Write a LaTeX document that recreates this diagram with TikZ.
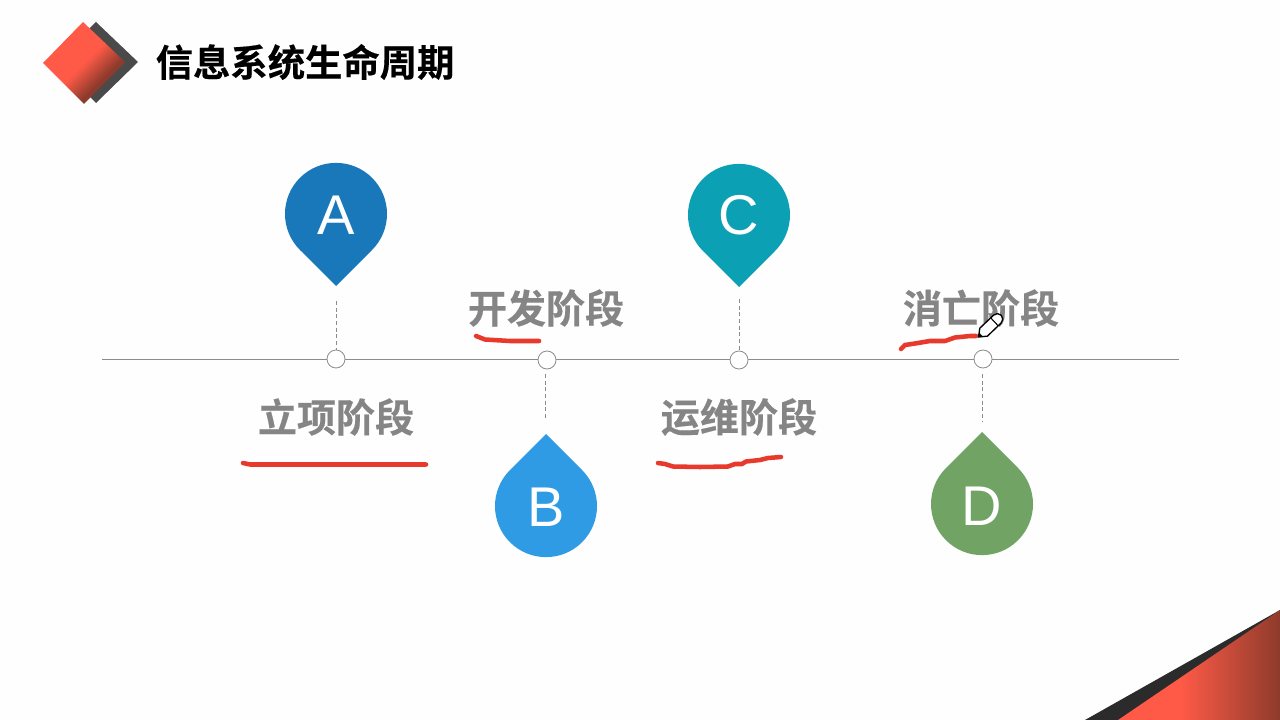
\documentclass[tikz,border=0pt]{standalone}
\usepackage{fontspec}
\setmainfont{Liberation Sans}
\newfontfamily\cjk{Noto Sans CJK SC Bold}[FakeBold=0.35]
\usetikzlibrary{calc}
\definecolor{redA}{HTML}{FF5A47}
\definecolor{redB}{HTML}{8E3B2C}
\definecolor{inkdark}{HTML}{4A4A4A}
\definecolor{cornerdark}{HTML}{2B2B2B}
\definecolor{pinA}{HTML}{1878B9}
\definecolor{pinB}{HTML}{2F9BE5}
\definecolor{pinC}{HTML}{0CA0B5}
\definecolor{pinD}{HTML}{71A464}
\definecolor{labelgray}{HTML}{858585}
\definecolor{linegray}{HTML}{8C8C8C}
\definecolor{ink}{HTML}{E83A2C}
\definecolor{pagebg}{HTML}{FEFEFE}
\pgfdeclarehorizontalshading{logoshade}{100bp}{color(0bp)=(redA);color(50bp)=(redA);color(65bp)=(redB);color(100bp)=(redB)}
\pgfdeclarehorizontalshading{cornershade}{100bp}{color(0bp)=(redA);color(44bp)=(redA);color(75bp)=(redB);color(100bp)=(redB)}
\tikzset{
  x=0.75pt,y=-0.75pt,
  dot/.style={circle,draw=linegray,fill=white,line width=0.6pt,minimum size=13.5pt,inner sep=0pt},
  letter/.style={text=white,font=\fontsize{42}{42}\selectfont,inner sep=0pt},
  phase/.style={text=labelgray,font=\cjk\fontsize{29.3}{29.3}\selectfont,inner sep=0pt},
  guide/.style={draw=linegray,line width=0.5pt,dash pattern=on 3pt off 2pt},
  stroke/.style={draw=ink,line width=3.4pt,line cap=round,line join=round},
}
\newcommand{\pindown}[3]{\fill[#3] (#1,#2) ++(0,72) -- ++(36.06,-36.06) arc[start angle=-45,end angle=225,radius=38.25pt] -- cycle;}
\newcommand{\pinup}[3]{\fill[#3] (#1,#2) ++(0,-72) -- ++(-36.06,36.06) arc[start angle=135,end angle=405,radius=38.25pt] -- cycle;}
\begin{document}
\begin{tikzpicture}
\useasboundingbox (0,0) rectangle (1280,720);
\fill[pagebg] (0,0) rectangle (1280,720);

% logo
\fill[inkdark] (96,22) -- (138,62) -- (96,103) -- (55,62) -- cycle;
\path[shading=logoshade,shading angle=-45] (83,22) -- (125,62) -- (84,104) -- (43,63) -- cycle;
\node[anchor=west,inner sep=0pt,font=\cjk\fontsize{28}{28}\selectfont,text=black] (title) at (155.5,62) {信息系统生命周期};

% corner
\fill[cornerdark] (1085,720) -- (1280,610) -- (1280,720) -- cycle;
\path[shading=cornershade] (1118,720) -- (1280,610) -- (1280,720) -- cycle;

% timeline
\coordinate (lineL) at (102,359);
\coordinate (lineR) at (1179,359);
\draw[linegray,line width=0.7pt] (lineL) -- (lineR);
\node[dot] (d1) at (336,359) {};
\node[dot] (d2) at (547,360) {};
\node[dot] (d3) at (739,360) {};
\node[dot] (d4) at (983,359) {};

% pins
\pindown{336}{214}{pinA}
\pinup{546}{506}{pinB}
\pindown{739}{215}{pinC}
\pinup{982}{504}{pinD}
\node[letter] (A) at (336,215) {A};
\node[letter] (B) at (546,507) {B};
\node[letter] (C) at (739,215) {C};
\node[letter] (D) at (982,506) {D};

% guides
\coordinate (gA) at (336,301);
\coordinate (gB) at (545,420);
\coordinate (gC) at (739,299);
\coordinate (gD) at (982,422);
\draw[guide] (gA) -- (336,350);
\draw[guide] (545,374) -- (gB);
\draw[guide] (gC) -- (739,351);
\draw[guide] (982,374) -- (gD);

% labels
\node[phase] (p1) at (336,417) {立项阶段};
\node[phase] (p2) at (546,308) {开发阶段};
\node[phase] (p3) at (739,417) {运维阶段};
\node[phase] (p4) at (981,308) {消亡阶段};

% hand-drawn underlines
\draw[stroke] (243,463) -- (250,464.5) -- (426,464.5);
\draw[stroke] (476,336) -- (485,339.5) -- (510,341) -- (539,341);
\draw[stroke] (658,463) -- (665,464) -- (673,466.5) -- (700,467) -- (728,466.5) -- (735,464) -- (742,464) -- (746,461.5) -- (760,460) -- (768,458) -- (781,457);
\draw[stroke] (901,349) -- (905,345) -- (915,343.5) -- (930,341) -- (945,341) -- (955,337.5) -- (970,336) -- (976,336);

% pencil cursor
\begin{scope}[shift={(978.5,337)},rotate=43.5]
  \draw[black,fill=white,line width=1pt,line join=round] (0,0) -- (7,-5.5) -- (26,-5.5) arc[start angle=90,end angle=-90,radius=4.1pt] -- (7,5.5) -- cycle;
  \draw[black,line width=0.8pt] (22,-5.5) -- (22,5.5);
  \fill[black] (0,0) -- (3.5,-2.8) -- (3.5,2.8) -- cycle;
\end{scope}
\end{tikzpicture}
\end{document}
